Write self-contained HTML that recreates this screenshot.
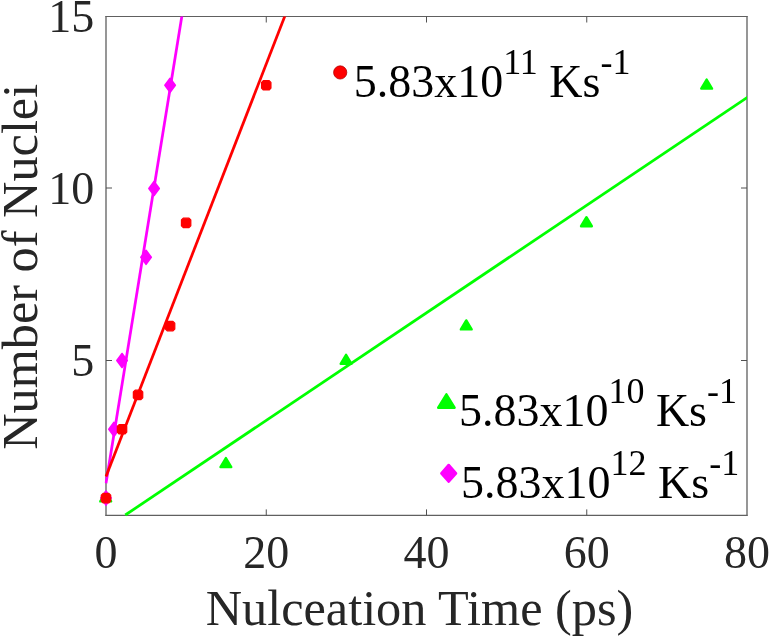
<!DOCTYPE html>
<html><head><meta charset="utf-8"><title>Nucleation</title>
<style>
html,body{margin:0;padding:0;background:#fff;}
body{width:770px;height:637px;overflow:hidden;font-family:"Liberation Serif",serif;}
svg{display:block}
text{font-family:"Liberation Serif",serif;}
</style></head><body>
<svg width="770" height="637" viewBox="0 0 770 637">
<rect width="770" height="637" fill="#fff"/>
<defs><clipPath id="c"><rect x="104.5" y="16.5" width="642.5" height="501.4"/></clipPath></defs>

<path d="M106 16 V515.9 M747 16 V515.9" stroke="#3a3a3a" stroke-width="1.05" fill="none"/>
<path d="M105.45 16.5 H747.55 M105.45 515.4 H747.55" stroke="#606060" stroke-width="1.1" fill="none"/>
<path d="M266.25 515.40 v-6 M266.25 16.50 v6 M426.50 515.40 v-6 M426.50 16.50 v6 M586.75 515.40 v-6 M586.75 16.50 v6 M106.00 360.50 h6 M747.00 360.50 h-6 M106.00 188.00 h6 M747.00 188.00 h-6" stroke="#505050" stroke-width="1" fill="none"/>
<g clip-path="url(#c)" fill="none" stroke-width="2.75" stroke-linecap="butt">
<line x1="125.30" y1="515.00" x2="752.00" y2="94.34" stroke="#00ff00"/>
<line x1="106.00" y1="483.30" x2="183.32" y2="7.16" stroke="#ff00ff"/>
<line x1="106.00" y1="476.40" x2="288.27" y2="7.30" stroke="#ff0000"/>
</g>
<path d="M105.70 492.40 L111.10 501.40 L100.30 501.40 Z" fill="#00ff00" stroke="#00ff00" stroke-width="2.4" stroke-linejoin="round"/>
<path d="M225.89 458.00 L231.29 467.00 L220.49 467.00 Z" fill="#00ff00" stroke="#00ff00" stroke-width="2.4" stroke-linejoin="round"/>
<path d="M346.07 354.80 L351.47 363.80 L340.68 363.80 Z" fill="#00ff00" stroke="#00ff00" stroke-width="2.4" stroke-linejoin="round"/>
<path d="M466.26 320.40 L471.66 329.40 L460.86 329.40 Z" fill="#00ff00" stroke="#00ff00" stroke-width="2.4" stroke-linejoin="round"/>
<path d="M586.45 217.20 L591.85 226.20 L581.05 226.20 Z" fill="#00ff00" stroke="#00ff00" stroke-width="2.4" stroke-linejoin="round"/>
<path d="M706.64 79.60 L712.04 88.60 L701.24 88.60 Z" fill="#00ff00" stroke="#00ff00" stroke-width="2.4" stroke-linejoin="round"/>
<path d="M106.00 491.10 L111.20 498.10 L106.00 505.10 L100.80 498.10 Z" fill="#ff00ff" stroke="#ff00ff" stroke-width="1.6" stroke-linejoin="round"/>
<path d="M114.01 422.30 L119.21 429.30 L114.01 436.30 L108.81 429.30 Z" fill="#ff00ff" stroke="#ff00ff" stroke-width="1.6" stroke-linejoin="round"/>
<path d="M122.03 353.50 L127.23 360.50 L122.03 367.50 L116.83 360.50 Z" fill="#ff00ff" stroke="#ff00ff" stroke-width="1.6" stroke-linejoin="round"/>
<path d="M146.06 250.30 L151.26 257.30 L146.06 264.30 L140.86 257.30 Z" fill="#ff00ff" stroke="#ff00ff" stroke-width="1.6" stroke-linejoin="round"/>
<path d="M154.07 181.50 L159.27 188.50 L154.07 195.50 L148.88 188.50 Z" fill="#ff00ff" stroke="#ff00ff" stroke-width="1.6" stroke-linejoin="round"/>
<path d="M170.10 78.30 L175.30 85.30 L170.10 92.30 L164.90 85.30 Z" fill="#ff00ff" stroke="#ff00ff" stroke-width="1.6" stroke-linejoin="round"/>
<polygon points="103.10,493.40 108.90,493.40 110.70,495.20 110.70,501.00 108.90,502.80 103.10,502.80 101.30,501.00 101.30,495.20" fill="#ff0000" stroke="#ff0000" stroke-width="1.2" stroke-linejoin="round"/>
<polygon points="119.12,424.60 124.93,424.60 126.73,426.40 126.73,432.20 124.93,434.00 119.12,434.00 117.33,432.20 117.33,426.40" fill="#ff0000" stroke="#ff0000" stroke-width="1.2" stroke-linejoin="round"/>
<polygon points="135.15,390.20 140.95,390.20 142.75,392.00 142.75,397.80 140.95,399.60 135.15,399.60 133.35,397.80 133.35,392.00" fill="#ff0000" stroke="#ff0000" stroke-width="1.2" stroke-linejoin="round"/>
<polygon points="167.20,321.40 173.00,321.40 174.80,323.20 174.80,329.00 173.00,330.80 167.20,330.80 165.40,329.00 165.40,323.20" fill="#ff0000" stroke="#ff0000" stroke-width="1.2" stroke-linejoin="round"/>
<polygon points="183.23,218.20 189.02,218.20 190.82,220.00 190.82,225.80 189.02,227.60 183.23,227.60 181.43,225.80 181.43,220.00" fill="#ff0000" stroke="#ff0000" stroke-width="1.2" stroke-linejoin="round"/>
<polygon points="263.35,80.60 269.15,80.60 270.95,82.40 270.95,88.20 269.15,90.00 263.35,90.00 261.55,88.20 261.55,82.40" fill="#ff0000" stroke="#ff0000" stroke-width="1.2" stroke-linejoin="round"/>
<g font-size="46" fill="#262626">
<text x="106.00" y="568.3" text-anchor="middle">0</text>
<text x="266.25" y="568.3" text-anchor="middle">20</text>
<text x="426.50" y="568.3" text-anchor="middle">40</text>
<text x="586.75" y="568.3" text-anchor="middle">60</text>
<text x="747.00" y="568.3" text-anchor="middle">80</text>
<text x="94.2" y="376.40" text-anchor="end">5</text>
<text x="94.2" y="204.40" text-anchor="end">10</text>
<text x="94.2" y="32.40" text-anchor="end">15</text>
</g>
<text x="419.5" y="624.6" font-size="50.3" fill="#262626" text-anchor="middle">Nulceation Time (ps)</text>
<text transform="translate(37 266.8) rotate(-90)" font-size="50.3" fill="#262626" text-anchor="middle">Number of Nuclei</text>
<text x="353.7" y="96.7" font-size="46" fill="#000">5.83x10<tspan dy="-23" font-size="36">11</tspan><tspan dy="23" font-size="46"> Ks</tspan><tspan dy="-23" font-size="36">-1</tspan></text>
<text x="458.9" y="426.2" font-size="46" fill="#000">5.83x10<tspan dy="-23" font-size="36">10</tspan><tspan dy="23" font-size="46"> Ks</tspan><tspan dy="-23" font-size="36">-1</tspan></text>
<text x="461.1" y="497.6" font-size="46" fill="#000">5.83x10<tspan dy="-23" font-size="36">12</tspan><tspan dy="23" font-size="46"> Ks</tspan><tspan dy="-23" font-size="36">-1</tspan></text>
<circle cx="340.2" cy="72.45" r="6.6" fill="#ff0000" stroke="#b40000" stroke-width="0.8"/>
<path d="M446.40 394.30 L454.60 407.70 L438.20 407.70 Z" fill="#00ff00" stroke="#00ff00" stroke-width="2.4" stroke-linejoin="round"/>
<path d="M448.70 464.90 L456.10 473.35 L448.70 481.80 L441.30 473.35 Z" fill="#ff00ff" stroke="#ff00ff" stroke-width="2.4" stroke-linejoin="round"/>
</svg></body></html>
